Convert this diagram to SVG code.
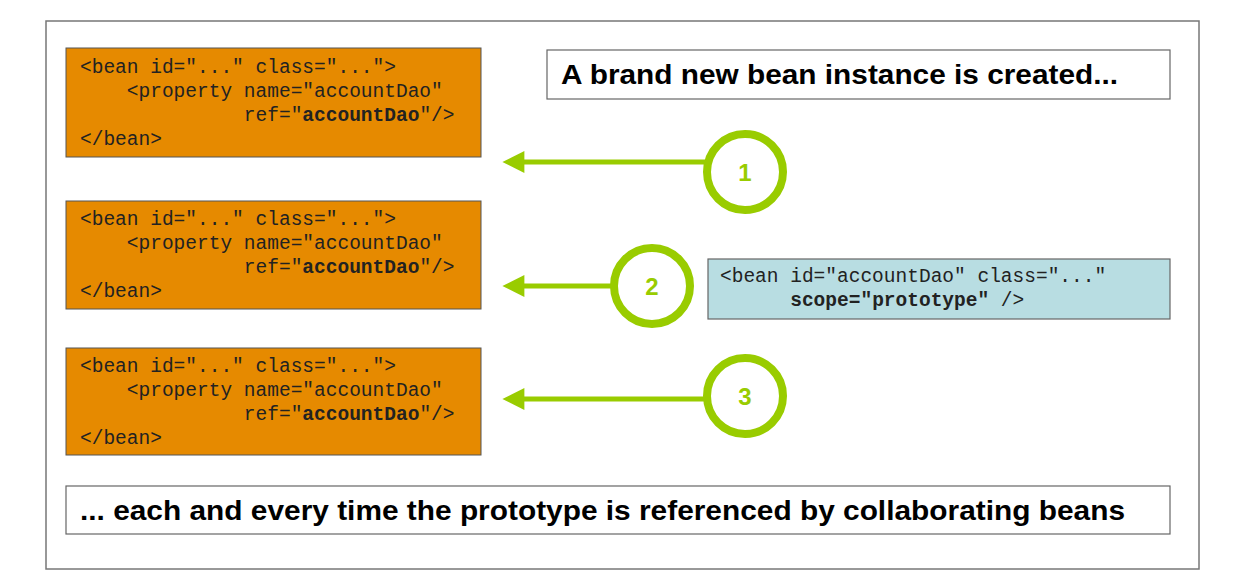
<svg xmlns="http://www.w3.org/2000/svg" width="1240" height="583" viewBox="0 0 1240 583">
<style>
.code{fill:#e68a00;stroke:#555;stroke-width:1}
.mono{font-family:"Liberation Mono","Courier New",monospace;font-size:19.5px;fill:#222;white-space:pre}
.b{font-weight:bold}
.ring{fill:#fff;stroke:#99cc00;stroke-width:8}
.num{font-family:"Liberation Sans",Arial,sans-serif;font-size:24px;font-weight:bold;fill:#99cc00;text-anchor:middle}
.big{font-family:"Liberation Sans",Arial,sans-serif;font-size:27px;font-weight:bold;fill:#000}
.box{fill:#fff;stroke:#666;stroke-width:1.2}
.arr{stroke:#99cc00;stroke-width:5;fill:none}
</style>
<defs>
<marker id="ah" viewBox="0 0 10 10" refX="2" refY="5" markerWidth="5" markerHeight="4.4" orient="auto-start-reverse" markerUnits="strokeWidth"><path d="M0,0 L10,5 L0,10 z" fill="#99cc00"/></marker>
</defs>
<rect width="1240" height="583" fill="#fff"/>
<rect x="46" y="21" width="1153" height="548" fill="#fff" stroke="#777" stroke-width="1.5"/>
<g id="title"><rect class="box" x="547" y="50" width="623" height="49"/><text class="big" x="561" y="84" textLength="557" lengthAdjust="spacingAndGlyphs">A brand new bean instance is created...</text></g>
<g id="bean1"><rect class="code" x="66" y="48" width="415" height="109"/>
<text class="mono" x="80" y="73">&lt;bean id="..." class="..."&gt;</text>
<text class="mono" x="80" y="97">    &lt;property name="accountDao"</text>
<text class="mono" x="80" y="121">              ref="<tspan class="b">accountDao</tspan>"/&gt;</text>
<text class="mono" x="80" y="145">&lt;/bean&gt;</text></g>
<g id="bean2"><rect class="code" x="66" y="201" width="415" height="108"/>
<text class="mono" x="80" y="225">&lt;bean id="..." class="..."&gt;</text>
<text class="mono" x="80" y="249">    &lt;property name="accountDao"</text>
<text class="mono" x="80" y="273">              ref="<tspan class="b">accountDao</tspan>"/&gt;</text>
<text class="mono" x="80" y="297">&lt;/bean&gt;</text></g>
<g id="bean3"><rect class="code" x="66" y="348" width="415" height="107"/>
<text class="mono" x="80" y="372">&lt;bean id="..." class="..."&gt;</text>
<text class="mono" x="80" y="396">    &lt;property name="accountDao"</text>
<text class="mono" x="80" y="420">              ref="<tspan class="b">accountDao</tspan>"/&gt;</text>
<text class="mono" x="80" y="444">&lt;/bean&gt;</text></g>
<g id="connectors">
<line class="arr" x1="708" y1="162" x2="520" y2="162" marker-end="url(#ah)"/>
<line class="arr" x1="614" y1="286" x2="520" y2="286" marker-end="url(#ah)"/>
<line class="arr" x1="708" y1="399" x2="520" y2="399" marker-end="url(#ah)"/>
</g>
<g id="c1"><ellipse class="ring" cx="745" cy="172" rx="38" ry="38"/><text class="num" x="745" y="181">1</text></g>
<g id="c2"><ellipse class="ring" cx="652" cy="286" rx="38" ry="38"/><text class="num" x="652" y="295">2</text></g>
<g id="c3"><ellipse class="ring" cx="745" cy="396" rx="38" ry="38"/><text class="num" x="745" y="405">3</text></g>
<g id="proto"><rect x="708" y="259" width="462" height="60" fill="#b8dde2" stroke="#666" stroke-width="1.2"/>
<text class="mono" x="720" y="282">&lt;bean id="accountDao" class="..."</text>
<text class="mono" x="720" y="306">      <tspan class="b">scope="prototype"</tspan> /&gt;</text></g>
<g id="footer"><rect class="box" x="66" y="486" width="1104" height="48"/><text class="big" x="80" y="520" textLength="1045" lengthAdjust="spacingAndGlyphs">... each and every time the prototype is referenced by collaborating beans</text></g>
</svg>
